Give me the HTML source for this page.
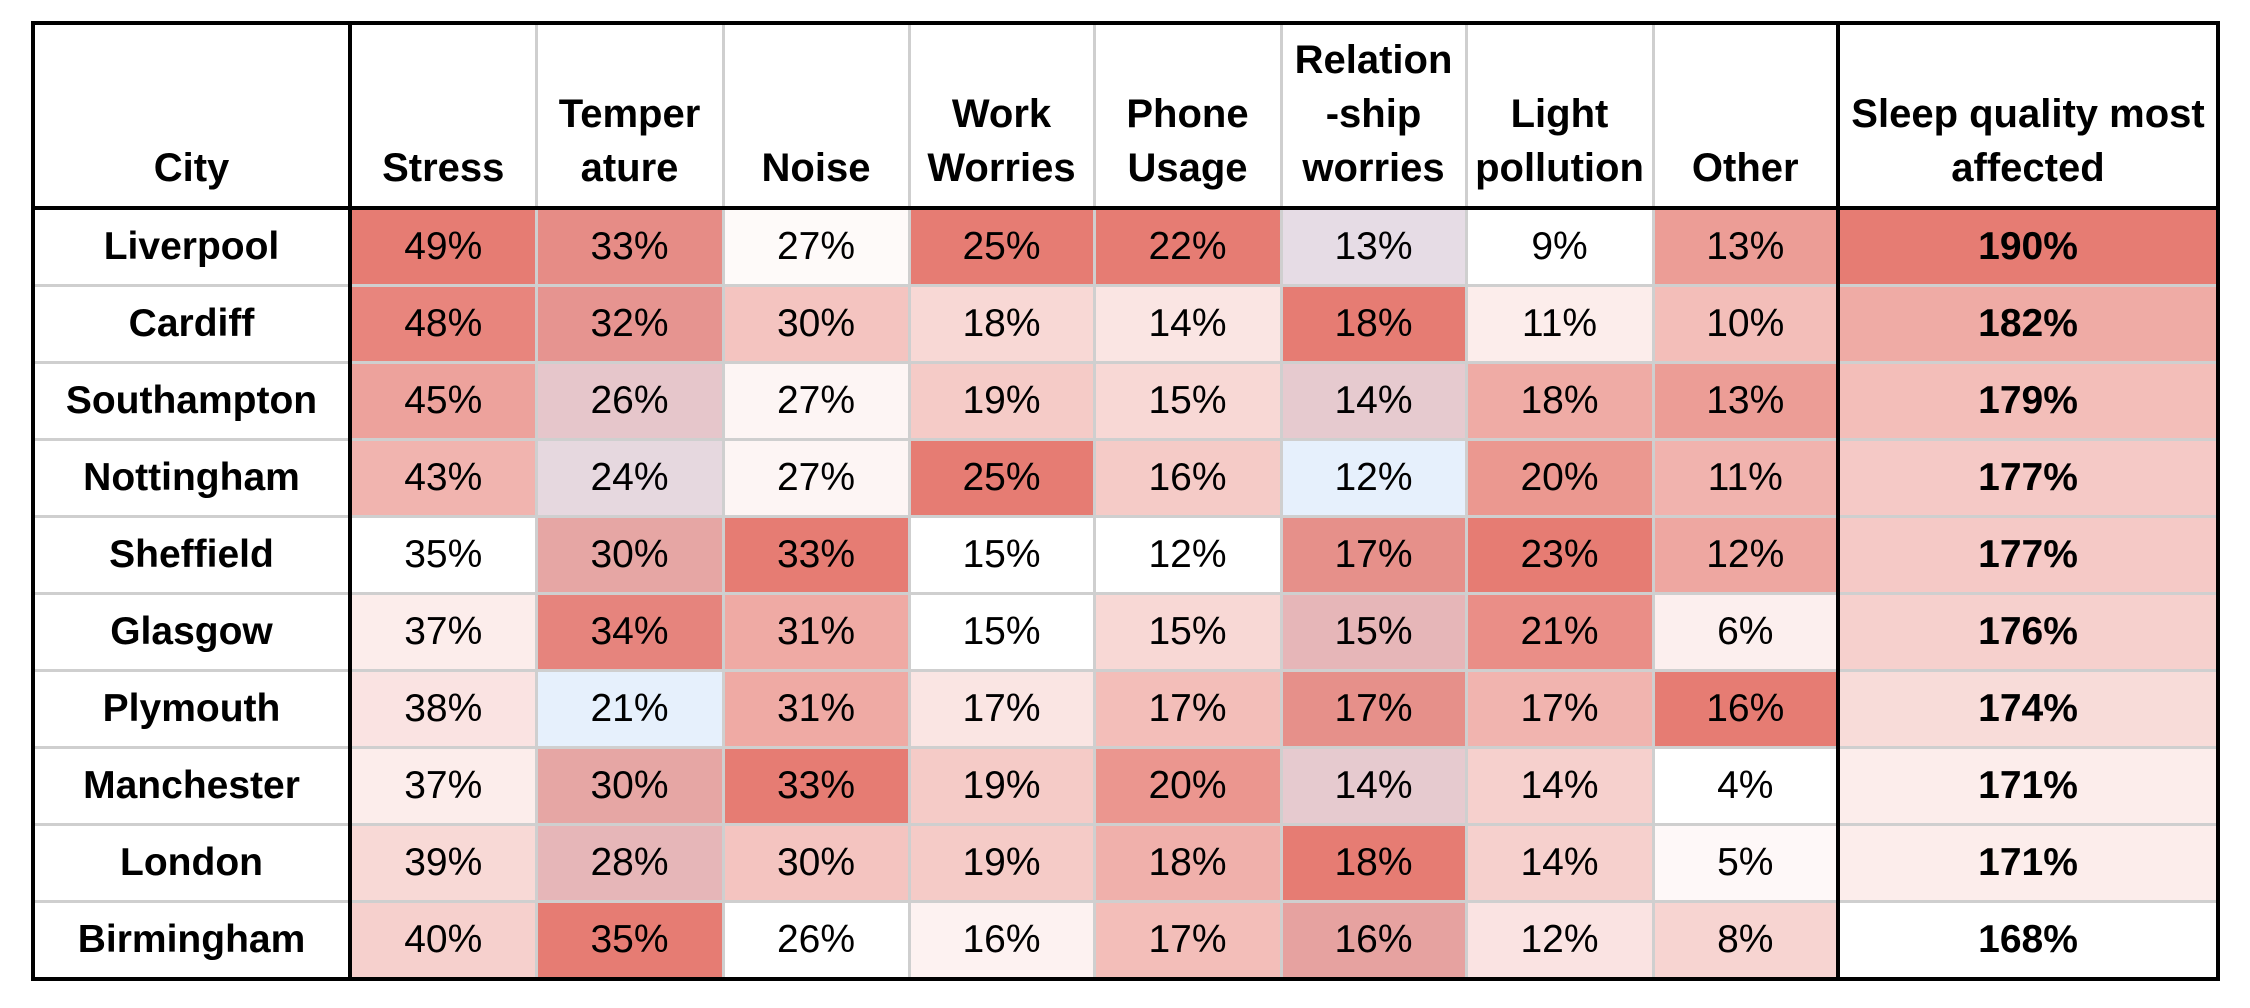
<!DOCTYPE html>
<html><head><meta charset="utf-8"><style>
html,body{margin:0;padding:0;background:#fff;width:2250px;height:1008px;overflow:hidden}
table{position:absolute;left:31px;top:21px;border-collapse:collapse;table-layout:fixed;font-family:"Liberation Sans",Arial,sans-serif;color:#000;border:4px solid #000}
td,th{border:3px solid #cfcfcf;text-align:center;padding:0;
 background:color-mix(in srgb,#e67c73 var(--t),var(--b,#ffffff))}
th{height:170px;vertical-align:bottom;font-weight:bold;font-size:40px;line-height:54px;padding-bottom:11px;background:#fff}
td{height:74px;font-size:39px}
tr td:first-child,th:first-child{font-weight:bold;border-right:4px solid #000;background:#fff;--t:0%}
thead th{border-bottom:4px solid #000}
td:last-child,th:last-child{border-left:4px solid #000;font-weight:bold}
.b{--b:#e6f0fc}
</style></head><body>
<table>
<colgroup><col style="width:317px"><col style="width:186px"><col style="width:187px"><col style="width:186px"><col style="width:185px"><col style="width:187px"><col style="width:185px"><col style="width:187px"><col style="width:185px"><col style="width:380px"></colgroup>
<thead><tr><th>City</th><th>Stress</th><th>Temper<br>ature</th><th>Noise</th><th>Work<br>Worries</th><th>Phone<br>Usage</th><th>Relation<br>-ship<br>worries</th><th>Light<br>pollution</th><th>Other</th><th>Sleep quality most<br>affected</th></tr></thead>
<tbody>
<tr><td>Liverpool</td><td style="--t:100%">49%</td><td class="b" style="--t:86%">33%</td><td style="--t:4%">27%</td><td style="--t:100%">25%</td><td style="--t:100%">22%</td><td class="b" style="--t:17%">13%</td><td style="--t:0%">9%</td><td style="--t:75%">13%</td><td style="--t:100%">190%</td></tr>
<tr><td>Cardiff</td><td style="--t:93%">48%</td><td class="b" style="--t:79%">32%</td><td style="--t:45%">30%</td><td style="--t:30%">18%</td><td style="--t:20%">14%</td><td class="b" style="--t:100%">18%</td><td style="--t:14%">11%</td><td style="--t:50%">10%</td><td style="--t:64%">182%</td></tr>
<tr><td>Southampton</td><td style="--t:71%">45%</td><td class="b" style="--t:36%">26%</td><td style="--t:8%">27%</td><td style="--t:40%">19%</td><td style="--t:30%">15%</td><td class="b" style="--t:33%">14%</td><td style="--t:64%">18%</td><td style="--t:75%">13%</td><td style="--t:50%">179%</td></tr>
<tr><td>Nottingham</td><td style="--t:57%">43%</td><td class="b" style="--t:21%">24%</td><td style="--t:8%">27%</td><td style="--t:100%">25%</td><td style="--t:40%">16%</td><td class="b" style="--t:0%">12%</td><td style="--t:79%">20%</td><td style="--t:58%">11%</td><td style="--t:41%">177%</td></tr>
<tr><td>Sheffield</td><td style="--t:0%">35%</td><td class="b" style="--t:64%">30%</td><td style="--t:100%">33%</td><td style="--t:0%">15%</td><td style="--t:0%">12%</td><td class="b" style="--t:83%">17%</td><td style="--t:100%">23%</td><td style="--t:67%">12%</td><td style="--t:41%">177%</td></tr>
<tr><td>Glasgow</td><td style="--t:14%">37%</td><td class="b" style="--t:93%">34%</td><td style="--t:65%">31%</td><td style="--t:0%">15%</td><td style="--t:30%">15%</td><td class="b" style="--t:50%">15%</td><td style="--t:86%">21%</td><td style="--t:12%">6%</td><td style="--t:36%">176%</td></tr>
<tr><td>Plymouth</td><td style="--t:21%">38%</td><td class="b" style="--t:0%">21%</td><td style="--t:65%">31%</td><td style="--t:20%">17%</td><td style="--t:50%">17%</td><td class="b" style="--t:83%">17%</td><td style="--t:57%">17%</td><td style="--t:100%">16%</td><td style="--t:27%">174%</td></tr>
<tr><td>Manchester</td><td style="--t:14%">37%</td><td class="b" style="--t:64%">30%</td><td style="--t:100%">33%</td><td style="--t:40%">19%</td><td style="--t:80%">20%</td><td class="b" style="--t:33%">14%</td><td style="--t:36%">14%</td><td style="--t:0%">4%</td><td style="--t:14%">171%</td></tr>
<tr><td>London</td><td style="--t:29%">39%</td><td class="b" style="--t:50%">28%</td><td style="--t:45%">30%</td><td style="--t:40%">19%</td><td style="--t:60%">18%</td><td class="b" style="--t:100%">18%</td><td style="--t:36%">14%</td><td style="--t:5%">5%</td><td style="--t:14%">171%</td></tr>
<tr><td>Birmingham</td><td style="--t:36%">40%</td><td class="b" style="--t:100%">35%</td><td style="--t:0%">26%</td><td style="--t:10%">16%</td><td style="--t:50%">17%</td><td class="b" style="--t:67%">16%</td><td style="--t:21%">12%</td><td style="--t:33%">8%</td><td style="--t:0%">168%</td></tr>
</tbody></table>
</body></html>
